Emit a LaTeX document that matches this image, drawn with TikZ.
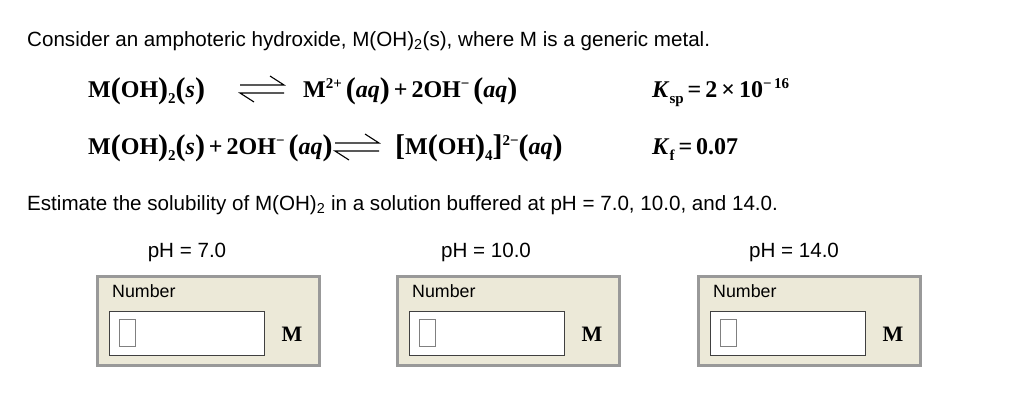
\documentclass[tikz,border=0pt]{standalone}
\usepackage{fontspec}
\setmainfont{Liberation Sans}
\newfontfamily\eqf{Liberation Serif}
\newcommand\esup[1]{\raisebox{9pt}{\fontsize{15}{16}\selectfont #1}}
\newcommand\esub[1]{\raisebox{-6pt}{\fontsize{15}{16}\selectfont #1}}
\newcommand\lp{{\fontsize{30}{30}\selectfont\raisebox{-1pt}{(}}}
\newcommand\rp{{\fontsize{30}{30}\selectfont\raisebox{-1pt}{)}}}
\begin{document}
\begin{tikzpicture}[x=1pt,y=-1pt,
  txt/.style={anchor=base west,inner sep=0,font=\fontsize{20.6}{24}\selectfont},
  eq/.style={anchor=base west,inner sep=0,font=\eqf\bfseries\fontsize{24}{28}\selectfont},
  lab/.style={anchor=base,inner sep=0,font=\fontsize{20.6}{24}\selectfont},
  panel/.style={fill=panelbg,draw=gray!80,line width=2.5pt},
  field/.style={fill=white,draw=black!75,line width=1pt},
  cursor/.style={fill=white,draw=gray,line width=1pt},
  numl/.style={anchor=base west,inner sep=0,font=\fontsize{17.8}{20}\selectfont},
  unit/.style={anchor=base,inner sep=0,font=\eqf\bfseries\fontsize{22}{24}\selectfont}]
\definecolor{panelbg}{RGB}{236,233,216}
\useasboundingbox (0,0) rectangle (1024,418);
\node[txt] (t1) at (27,46) {Consider an amphoteric hydroxide, M(OH)\textsubscript{2}(s), where M is a generic metal.};
\newcommand\arr[2]{%
  \draw[line width=1.1pt] (#1,#2-4) -- (#1+44,#2-4) -- (#1+30,#2-13);
  \draw[line width=1.1pt] (#1+44,#2+4) -- (#1,#2+4) -- (#1+14,#2+13);}
% row 1
\node[eq] (e1a) at (88,97) {M\lp OH\rp\esub{2}\lp\textit{s}\rp};
\arr{240}{89}
\node[eq] (e1b) at (303,97) {M\esup{2+}\,\lp\textit{aq}\rp\,+\,2OH\esup{−}\,\lp\textit{aq}\rp};
\node[eq] (e1c) at (652,97) {\textit{K}\esub{sp}\,=\,2\,×\,10\esup{−\,16}};
% row 2
\node[eq] (e2a) at (88,154) {M\lp OH\rp\esub{2}\lp\textit{s}\rp\,+\,2OH\esup{−}\,\lp\textit{aq}\rp};
\arr{335}{147}
\node[eq] (e2b) at (395,154) {{\fontsize{30}{30}\selectfont\raisebox{-1pt}{[}}M\lp OH\rp\esub{4}{\fontsize{30}{30}\selectfont\raisebox{-1pt}{]}}\esup{2−}\lp\textit{aq}\rp};
\node[eq] (e2c) at (652,154) {\textit{K}\esub{f}\,=\,0.07};
\node[txt] (t2) at (27,210) {Estimate the solubility of M(OH)\textsubscript{2} in a solution buffered at pH = 7.0, 10.0, and 14.0.};
\foreach \x/\c/\p in {96/187/7.0, 396/486/10.0, 697/794/14.0}{
  \node[lab] (ph\x) at (\c,257) {pH = \p};
  \node[panel,minimum width=222,minimum height=89,anchor=north west,inner sep=0] (pan\x) at (\x,275) {};
  \node[numl] (nl\x) at (\x+16,297) {Number};
  \node[field,minimum width=155,minimum height=44,anchor=north west,inner sep=0] (f\x) at (\x+13,311) {};
  \node[cursor,minimum width=16,minimum height=27,anchor=north west,inner sep=0] (c\x) at (\x+23,319) {};
  \node[unit] (u\x) at (\x+196,341) {M};
}
\end{tikzpicture}
\end{document}
